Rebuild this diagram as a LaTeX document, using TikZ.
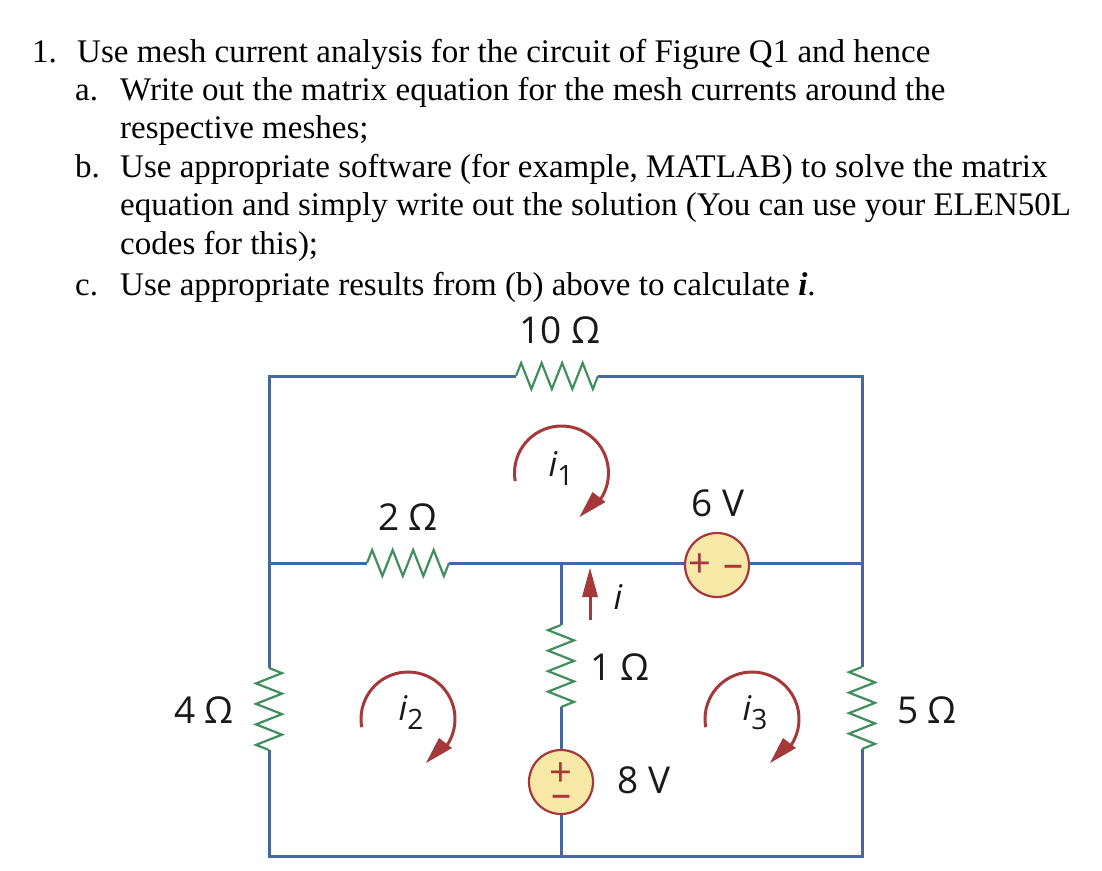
\documentclass[tikz,border=0pt]{standalone}
\usepackage{fontspec}
\setmainfont{Liberation Serif}
\newfontfamily\circfont{Open Sans}
\usetikzlibrary{decorations.pathmorphing}
\definecolor{wirecolor}{RGB}{70,104,154}
\definecolor{rescolor}{RGB}{64,142,92}
\definecolor{loopcolor}{RGB}{165,56,58}
\definecolor{srccolor}{RGB}{248,232,168}
\tikzset{
  textline/.style={anchor=base west, inner sep=0pt, font=\fontsize{33}{36}\selectfont},
  wire/.style={draw=wirecolor, line width=3pt},
  resistor/.style={draw=rescolor, line width=2.2pt, decorate,
    decoration={zigzag, amplitude=13pt, segment length=20.5pt}},
  vsource/.style={circle, draw=loopcolor, fill=srccolor, line width=2.2pt, minimum size=64pt, inner sep=0pt},
  polarity/.style={inner sep=0pt, anchor=base, text=loopcolor, font=\circfont\fontsize{40}{36}\selectfont},
  value/.style={inner sep=0pt, text=black!90, font=\circfont\fontsize{37}{36}\selectfont},
  meshlabel/.style={inner sep=0pt, text=black!90, font=\circfont\fontsize{34}{36}\selectfont}
}
\begin{document}
\begin{tikzpicture}[x=1pt, y=-1pt]
  \useasboundingbox (0,0) rectangle (1102,870);

  \node[textline] (num) at (32,62) {1.};
  \node[textline] (lineA) at (77,62) {Use mesh current analysis for the circuit of Figure Q1 and hence};
  \node[textline] (aa) at (75,100) {a.};
  \node[textline] (lineB) at (120,100) {Write out the matrix equation for the mesh currents around the};
  \node[textline] (lineC) at (120,138) {respective meshes;};
  \node[textline] (bb) at (75,177) {b.};
  \node[textline] (lineD) at (120,177) {Use appropriate software (for example, MATLAB) to solve the matrix};
  \node[textline] (lineE) at (120,215) {equation and simply write out the solution (You can use your ELEN50L};
  \node[textline] (lineF) at (120,254) {codes for this);};
  \node[textline] (cc) at (75,295) {c.};
  \node[textline] (lineG) at (120,295) {Use appropriate results from (b) above to calculate \textit{\textbf{i}}.};

  \coordinate (tl) at (269,376);
  \coordinate (tr) at (862,376);
  \coordinate (ml) at (269,563);
  \coordinate (mr) at (862,563);
  \coordinate (mc) at (561,563);
  \coordinate (bl) at (269,856);
  \coordinate (br) at (862,856);
  \coordinate (bc) at (561,856);
  \coordinate (rtenA) at (516,376);
  \coordinate (rtenB) at (598,376);
  \coordinate (rtwoA) at (367,563);
  \coordinate (rtwoB) at (449,563);
  \coordinate (roneA) at (561,625);
  \coordinate (roneB) at (561,707);
  \coordinate (rfourA) at (269,668);
  \coordinate (rfourB) at (269,750);
  \coordinate (rfiveA) at (862,667);
  \coordinate (rfiveB) at (862,749);

  \draw[wire] (rtenA) -- (tl) -- (rfourA);
  \draw[wire] (rfourB) -- (bl) -- (br) -- (rfiveB);
  \draw[wire] (rfiveA) -- (tr) -- (rtenB);
  \draw[wire] (ml) -- (rtwoA);
  \draw[wire] (rtwoB) -- (mr);
  \draw[wire] (mc) -- (roneA);
  \draw[wire] (roneB) -- (bc);

  \draw[resistor] (rtenA) -- (rtenB);
  \draw[resistor] (rtwoA) -- (rtwoB);
  \draw[resistor, decoration={mirror}] (roneA) -- (roneB);
  \draw[resistor] (rfourA) -- (rfourB);
  \draw[resistor, decoration={mirror}] (rfiveA) -- (rfiveB);

  \node[vsource] (vsix) at (717,565) {};
  \node[polarity] (vsixP) at (700,577) {+};
  \node[polarity] (vsixM) at (733,577) {–};
  \node[vsource] (veight) at (561,782) {};
  \node[polarity, anchor=center, align=center, font=\circfont\fontsize{40}{21}\selectfont] (veightS) at (561,785) {+\\–};

  \node[value] (lten) at (560,330) {10 Ω};
  \node[value] (ltwo) at (408,517) {2 Ω};
  \node[value] (lsix) at (718,503) {6 V};
  \node[value] (lone) at (620,667) {1 Ω};
  \node[value] (lfour) at (204,710) {4 Ω};
  \node[value] (lfive) at (927,710) {5 Ω};
  \node[value] (leight) at (644,780) {8 V};

  \foreach \n/\cx/\cy/\nx/\ny in {1/561.5/473/561/469, 2/408/719/411/713, 3/752/719/755/713} {
    \coordinate (loop\n) at (\cx,\cy);
    \draw[loopcolor, line width=3pt] (loop\n) ++(170:47) arc[start angle=170, end angle=395, radius=47];
    \fill[loopcolor] (loop\n) ++(18,44) -- ++(13,-25) -- ++(13,10) -- cycle;
    \node[meshlabel] (ilab\n) at (\nx,\ny) {\textit{i}\raisebox{-9pt}{\fontsize{28}{28}\selectfont\n}};
  }

  \coordinate (curA) at (590,620);
  \coordinate (curB) at (590,568);
  \draw[loopcolor, line width=3pt] (curA) -- (590,590);
  \fill[loopcolor] (curB) -- (598,597) -- (582,597) -- cycle;
  \node[meshlabel] (lcur) at (618,597) {\textit{i}};
\end{tikzpicture}
\end{document}
